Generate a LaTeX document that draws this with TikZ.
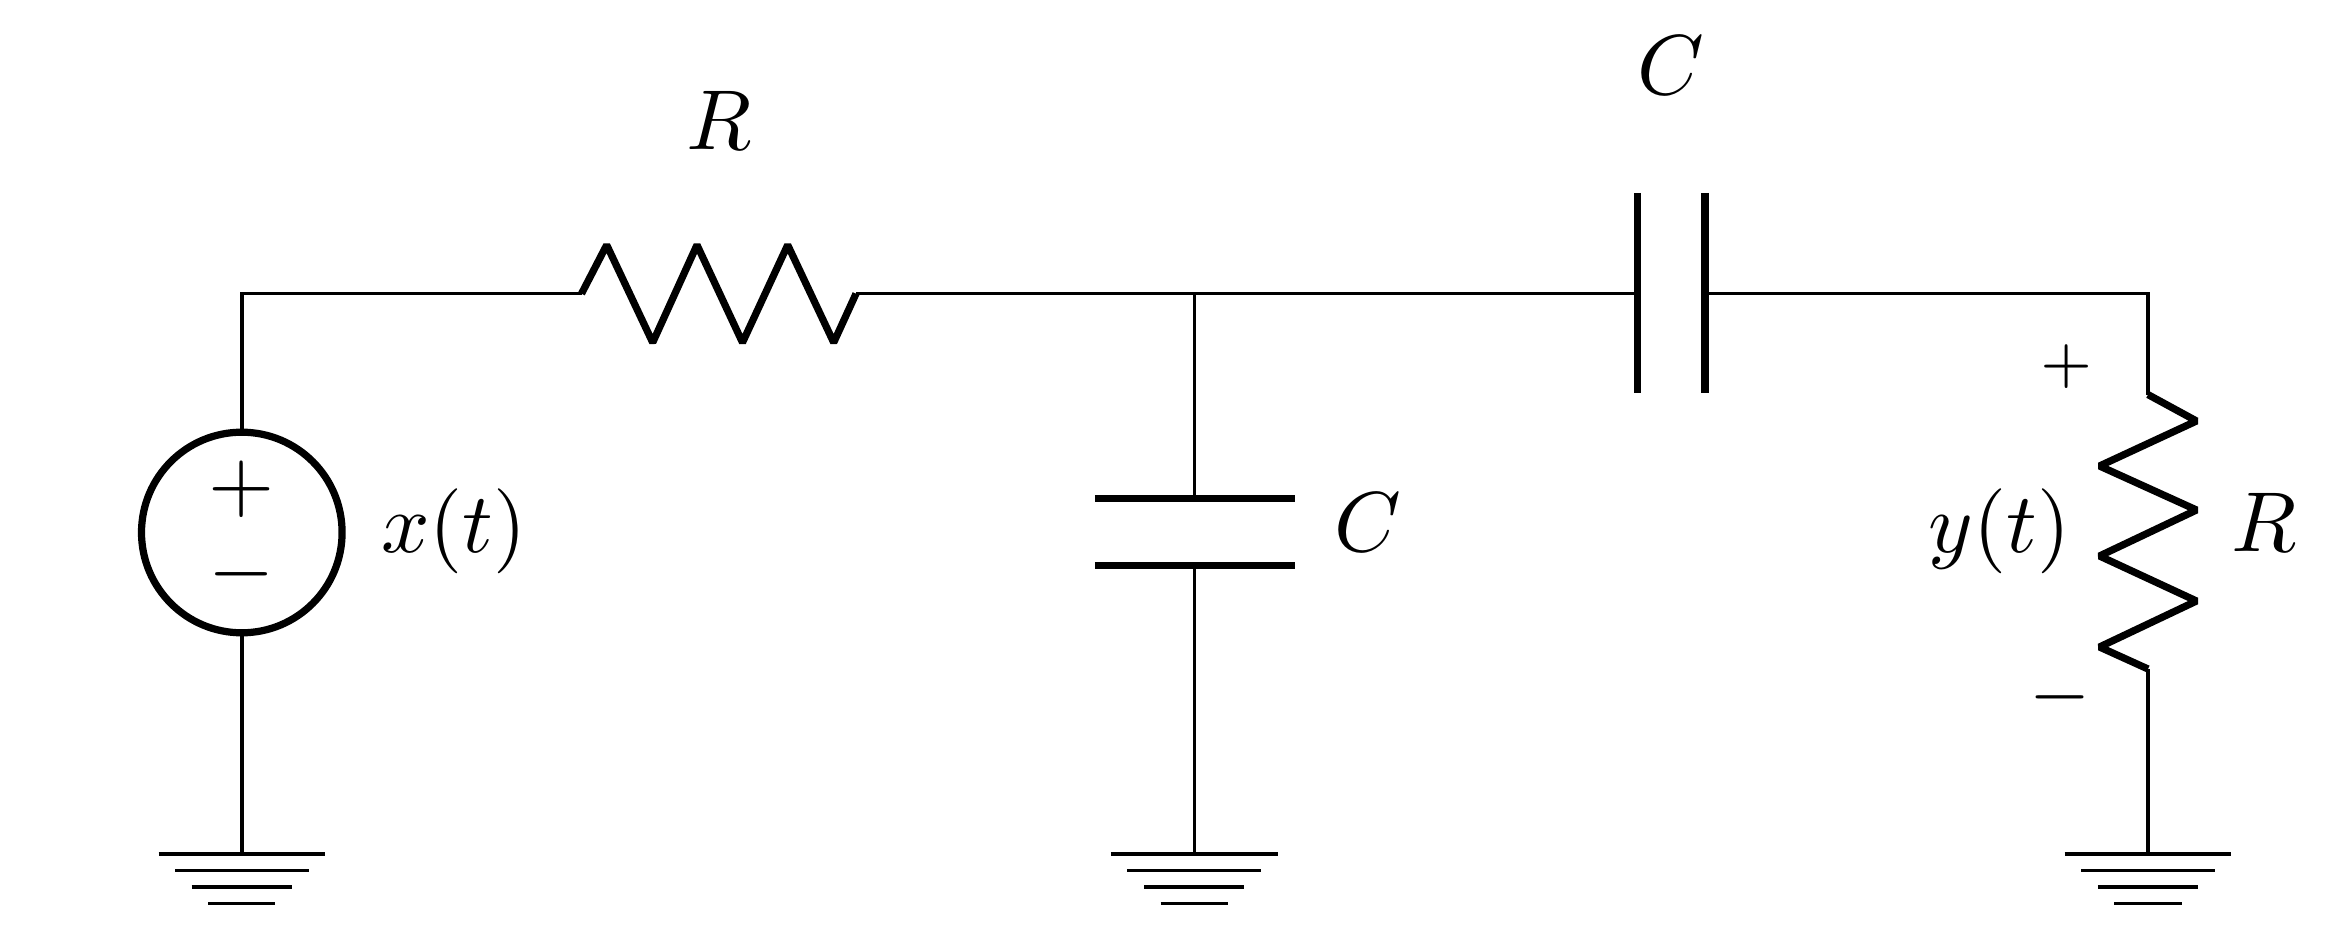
\documentclass[tikz,border=0pt]{standalone}
\usepackage{amsmath}
\usepackage{amssymb}
\usepackage{tikz}

\tikzset{
	wire/.style={line width=0.4pt,line join=miter},
	part/.style={line width=0.85pt,line join=bevel},
	source/.style={shape=circle, draw=black, line width=0.85pt, inner sep=0pt, minimum size=23.6pt},
	gndbar/.style={line width=0.4pt}
}

\begin{document}
\begin{tikzpicture}[x=0.11765pt,y=-0.11765pt]
	\useasboundingbox (0,0) rectangle (2326,930);
	% terminals
	\coordinate (r1a) at (581.5,293.7);
	\coordinate (r1b) at (856,293.7);
	\coordinate (j) at (1194.2,293.7);
	\coordinate (c1a) at (1194.2,498.4);
	\coordinate (c1b) at (1194.2,565.2);
	\coordinate (c2a) at (1637.7,293.7);
	\coordinate (c2b) at (1705,293.7);
	\coordinate (r2a) at (2148,394.6);
	\coordinate (r2b) at (2148,669);
	\coordinate (g1) at (241.8,854);
	\coordinate (g2) at (1194.2,854);
	\coordinate (g3) at (2148,854);
	\node[source] (vs) at (241.8,532.5) {};
	% wires
	\draw[wire] (vs.north) |- (r1a);
	\draw[wire] (vs.south) -- (g1);
	\draw[wire] (r1b) -- (c2a);
	\draw[wire] (j) -- (c1a);
	\draw[wire] (c1b) -- (g2);
	\draw[wire] (c2b) -| (r2a);
	\draw[wire] (r2b) -- (g3);
	% resistors
	\draw[part] (r1a) -- (606.7,245) -- (652.7,342.5) -- (697,245) -- (742.5,342.5) -- (787.7,245) -- (833.7,342.5) -- (r1b);
	\draw[part] (r2a) -- (2196.5,421) -- (2099.5,466) -- (2196.5,510) -- (2099.5,556) -- (2196.5,601) -- (2099.5,647) -- (r2b);
	% capacitors
	\draw[part] (1094.8,498.4) -- (1295,498.4);
	\draw[part] (1094.8,565.2) -- (1295,565.2);
	\draw[part] (1637.7,193) -- (1637.7,393);
	\draw[part] (1705,193) -- (1705,393);
	% grounds
	\foreach \g in {g1,g2,g3} {
		\draw[gndbar] ([xshift=-9.8pt]\g) -- ([xshift=9.8pt]\g);
		\draw[gndbar] ([xshift=-7.85pt,yshift=-1.95pt]\g) -- ([xshift=7.85pt,yshift=-1.95pt]\g);
		\draw[gndbar] ([xshift=-5.9pt,yshift=-3.9pt]\g) -- ([xshift=5.9pt,yshift=-3.9pt]\g);
		\draw[gndbar] ([xshift=-3.95pt,yshift=-5.85pt]\g) -- ([xshift=3.95pt,yshift=-5.85pt]\g);
	}
	% labels
	\node (lr1) at (719,120) {$R$};
	\node (lc2) at (1671,65) {$C$};
	\node (lc1) at (1368,522) {$C$};
	\node (lr2) at (2264,522) {$R$};
	\node (lx) at (454,531) {$x(t)$};
	\node (ly) at (1999.5,531) {$y(t)$};
	\node[inner sep=0pt] (vp) at (241.8,489) {$+$};
	\node[inner sep=0pt] (vm) at (241.8,574) {$-$};
	\node[font=\fontsize{7.5}{9}\selectfont] (yp) at (2067,367) {$+$};
	\node[font=\small] (ym) at (2060,697) {$-$};
\end{tikzpicture}
\end{document}
